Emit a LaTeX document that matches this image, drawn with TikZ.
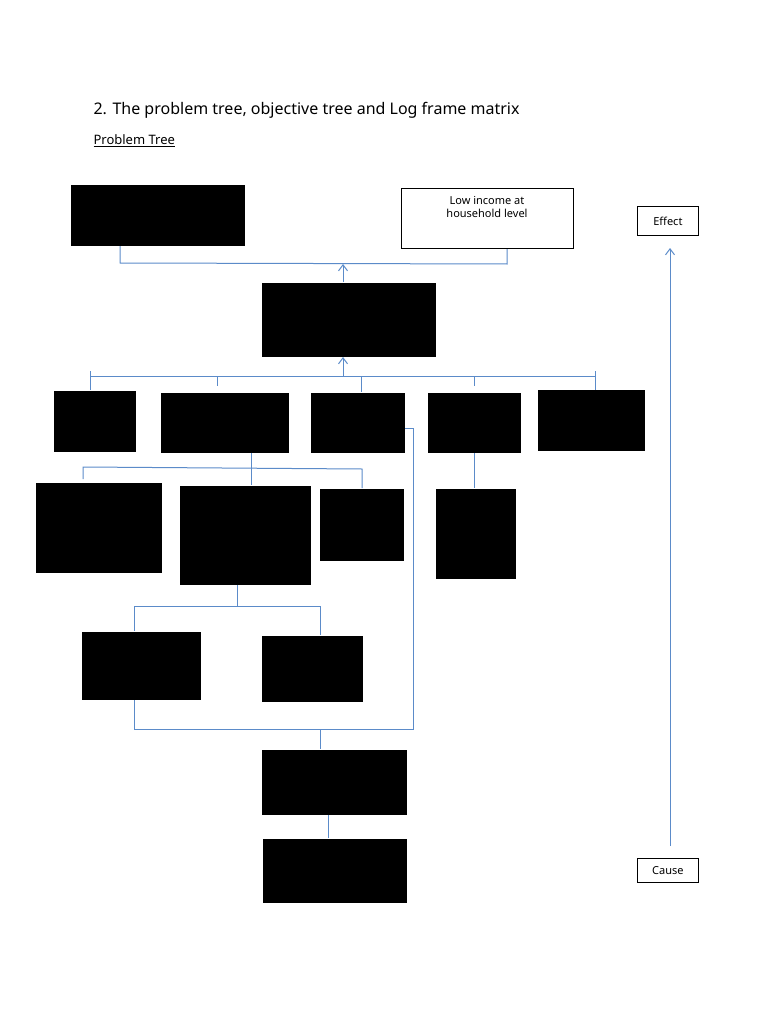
\documentclass[tikz,border=0pt]{standalone}
\usepackage{fontspec}
\setmainfont{Noto Sans}
\usetikzlibrary{arrows.meta}
\definecolor{ln}{HTML}{5B8BC9}
\begin{document}
\begin{tikzpicture}[x=1pt,y=-1pt,
  blk/.style={fill=black,draw=black},
  wbox/.style={draw=black,line width=0.8pt,fill=white},
  con/.style={draw=ln,line width=1pt},
  arr/.style={con,-{Straight Barb[length=6pt,width=9pt]}}]
\useasboundingbox (0,0) rectangle (768,1024);
\node[anchor=base west,font=\bfseries\fontsize{16}{18}\selectfont] (title) at (90,115) {2. The problem tree, objective tree and Log frame matrix};
\node[anchor=base west,font=\bfseries\fontsize{13}{15}\selectfont] (sub) at (90,145) {\underline{Problem Tree}};
% boxes
\path[blk] (71,185) rectangle (244,245) coordinate (A) ;
\coordinate (Abot) at (120,245);
\node[wbox,minimum width=172,minimum height=60,align=center,anchor=north west,inner sep=0,font=\fontsize{11}{13}\selectfont,text depth=0,yshift=0] (B) at (401,188) {};
\node[align=center,font=\fontsize{11}{13}\selectfont,anchor=north] (Btxt) at (487,193) {Low income at\\household level};
\node[wbox,minimum width=61,minimum height=29,anchor=north west,inner sep=0,font=\fontsize{11}{13}\selectfont] (eff) at (637,206) {Effect};
\node[wbox,minimum width=61,minimum height=24,anchor=north west,inner sep=0,font=\fontsize{11}{13}\selectfont] (cause) at (637,858) {Cause};
\path[blk] (262,283) rectangle (435,356);
\path[blk] (54,391) rectangle (135,451);
\path[blk] (161,393) rectangle (288,452);
\path[blk] (311,393) rectangle (404,452);
\path[blk] (428,393) rectangle (520,452);
\path[blk] (538,390) rectangle (644,450);
\path[blk] (36,483) rectangle (161,572);
\path[blk] (180,486) rectangle (310,584);
\path[blk] (320,489) rectangle (403,560);
\path[blk] (436,489) rectangle (515,578);
\path[blk] (82,632) rectangle (200,699);
\path[blk] (262,636) rectangle (362,701);
\path[blk] (262,750) rectangle (406,814);
\path[blk] (263,839) rectangle (406,902);
% connectors
\draw[con] (120,246) -- (120,263) -- (507,264) -- (507,249);
\draw[arr] (343,282) -- (343,264);
\draw[con] (90,376) -- (595,376);
\draw[con] (90,371) -- (90,390);
\draw[con] (595,371) -- (595,390);
\draw[con] (217,376) -- (217,386);
\draw[con] (361,376) -- (361,392);
\draw[con] (474,376) -- (474,386);
\draw[arr] (343,376) -- (343,357);
\draw[con] (251,453) -- (251,485);
\draw[con] (83,479) -- (83,467) -- (362,469) -- (362,488);
\draw[con] (474,453) -- (474,488);
\draw[con] (405,428) -- (413,428) -- (413,729) -- (134,729) -- (134,700);
\draw[con] (320,729) -- (320,749);
\draw[con] (237,585) -- (237,606);
\draw[con] (134,631) -- (134,606) -- (320,606) -- (320,635);
\draw[con] (328,815) -- (328,838);
\draw[arr] (670,846) -- (670,248);
\end{tikzpicture}
\end{document}
